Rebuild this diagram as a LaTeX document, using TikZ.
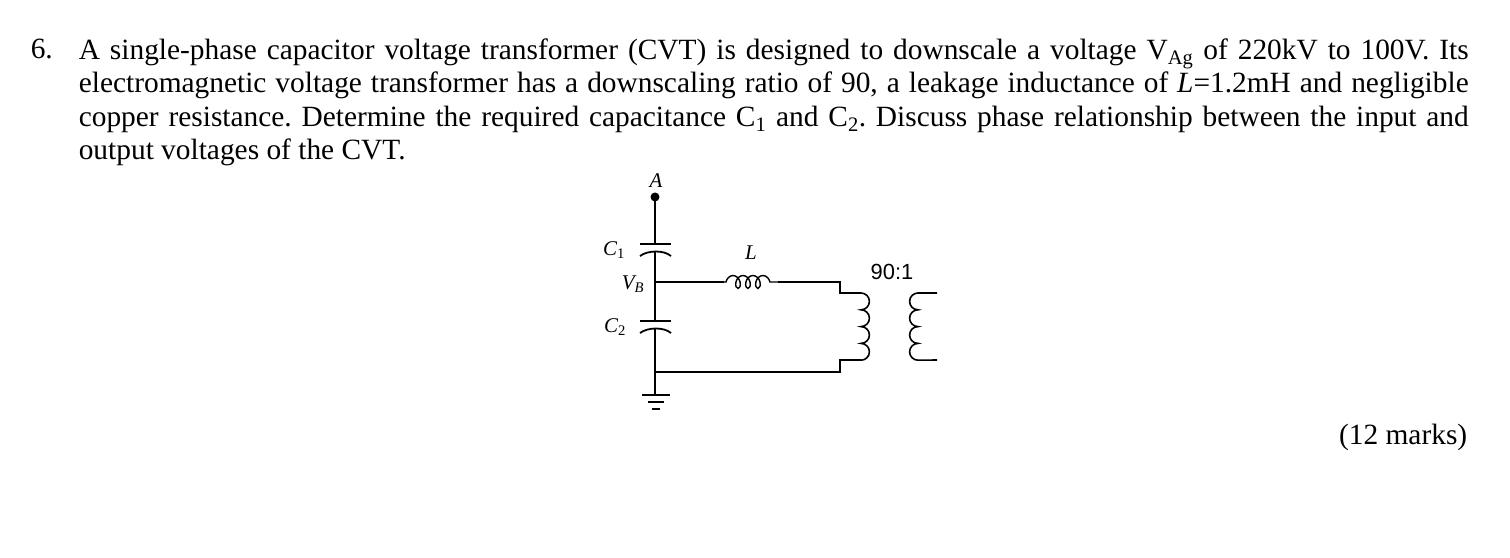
\documentclass[tikz,border=0pt]{standalone}
\usepackage{fontspec}
\setmainfont{Liberation Serif}
\newfontfamily\sansf{Liberation Sans}
\usetikzlibrary{decorations.pathmorphing}
\begin{document}
\frenchspacing
\begin{tikzpicture}[x=1bp,y=-1bp,line width=1.6bp,
  lbl/.style={inner sep=0pt,font=\fontsize{21}{21}\selectfont\itshape},
  plate/.style={line width=1.8bp}]
\useasboundingbox[fill=white] (0,0) rectangle (1510,558);
\node[anchor=north west,inner sep=0pt,font=\fontsize{29.5}{33.4}\selectfont] (num) at (30,38) {6.};
\node[anchor=north west,inner sep=0pt,text width=1390bp,align=justify,font=\fontsize{29.5}{33.4}\selectfont] (q) at (78,38)
{A single-phase capacitor voltage transformer (CVT) is designed to downscale a voltage V\textsubscript{Ag} of 220kV to 100V. Its\linebreak
electromagnetic voltage transformer has a downscaling ratio of 90, a leakage inductance of \textit{L}=1.2mH and negligible\linebreak
copper resistance. Determine the required capacitance C\textsubscript{1} and C\textsubscript{2}. Discuss phase relationship between the input and\linebreak
output voltages of the CVT.};
\node[anchor=east,inner sep=0pt,font=\fontsize{29.5}{30}\selectfont] (marks) at (1468,437) {(12 marks)};
% circuit
\coordinate (A) at (655,197);
\coordinate (c1t) at (655,244);
\coordinate (c1b) at (655,252);
\coordinate (B) at (655,282);
\coordinate (c2t) at (655,321);
\coordinate (c2b) at (655,329);
\coordinate (G) at (655,372);
\coordinate (gnd) at (655,395);
\coordinate (Ls) at (724,282);
\coordinate (Le) at (778,282);
\coordinate (p1) at (840,282);
\coordinate (p2) at (840,293);
\coordinate (pt) at (861,293);
\coordinate (pb) at (861,360);
\coordinate (p3) at (840,360);
\coordinate (p4) at (840,372);
\coordinate (st) at (918,293);
\coordinate (sb) at (918,360);
\coordinate (so1) at (937,293);
\coordinate (so2) at (937,360);
\fill (A) circle (4.5);
\node[lbl] (Alab) at (656,181) {A};
\draw (A) -- (c1t);
\draw[plate] (640,244) -- (671,244);
\draw[plate] (640,256) .. controls (648,250) and (664,250) .. (671,256);
\draw (c1b) -- (B) -- (c2t);
\draw[plate] (640,321) -- (671,321);
\draw[plate] (640,333) .. controls (648,327) and (664,327) .. (671,333);
\draw (c2b) -- (G) -- (gnd);
\draw (642,395) -- (670,395);
\draw (648,402) -- (664,402);
\draw (652,409) -- (660,409);
\draw (B) -- (Ls);
\draw[line width=1.4bp] (Ls) -- (726,282) decorate[decoration={coil,aspect=0.7,segment length=10,amplitude=6.5}] {-- (776,282)} -- (Le);
\draw (Le) -- (p1) -- (p2) -- (pt);
\draw (pt) arc[start angle=-90,end angle=90,radius=8.4] arc[start angle=-90,end angle=90,radius=8.4]
 arc[start angle=-90,end angle=90,radius=8.4] arc[start angle=-90,end angle=90,radius=8.4];
\draw (pb) -- (p3) -- (p4) -- (G);
\draw (so1) -- (st) arc[start angle=-90,end angle=-270,radius=8.4] arc[start angle=-90,end angle=-270,radius=8.4]
 arc[start angle=-90,end angle=-270,radius=8.4] arc[start angle=-90,end angle=-270,radius=8.4] -- (so2);
\node[lbl] (C1) at (614,250) {C\textsubscript{\upshape 1}};
\node[lbl] (VB) at (633,284) {V\textsubscript{B}};
\node[lbl] (C2) at (615,327) {C\textsubscript{\upshape 2}};
\node[lbl] (Llab) at (751,253) {L};
\node[inner sep=0pt,font=\sansf\fontsize{22}{22}\selectfont] (ratio) at (892,272) {90:1};
\end{tikzpicture}
\end{document}
